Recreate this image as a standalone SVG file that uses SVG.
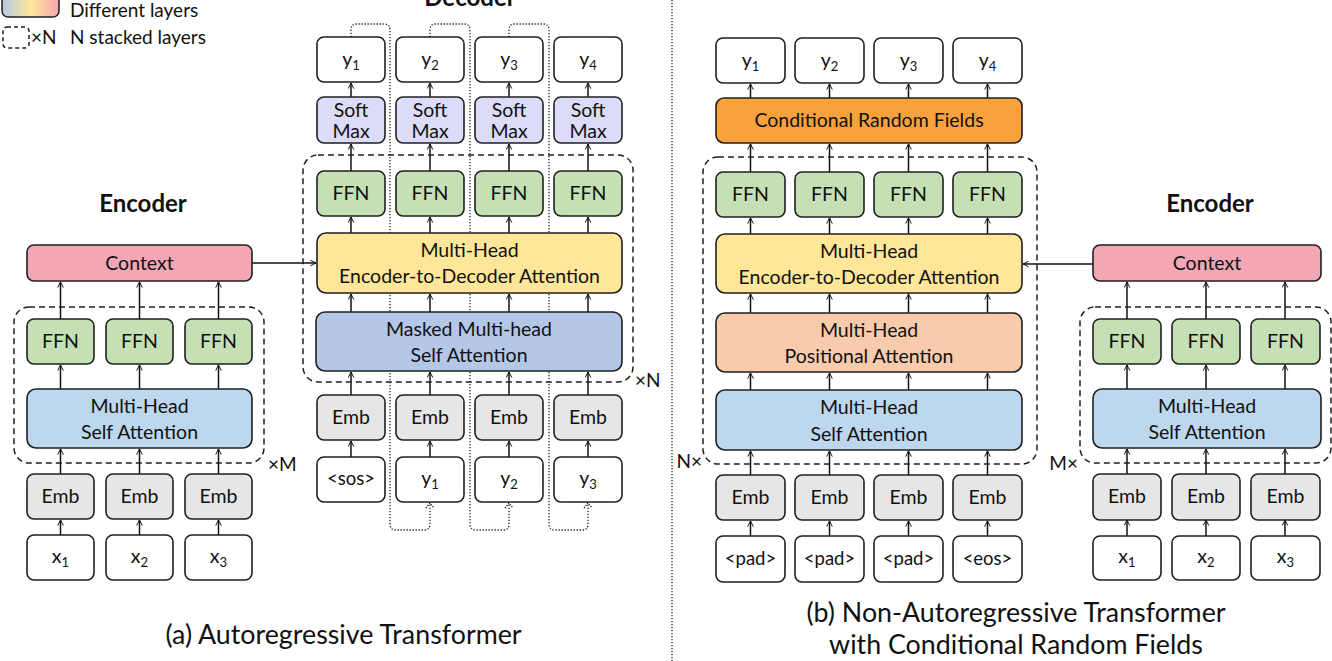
<svg xmlns="http://www.w3.org/2000/svg" width="1332" height="661" viewBox="0 0 1332 661">
<defs>
<linearGradient id="lg" x1="0" y1="0" x2="1" y2="0">
<stop offset="0" stop-color="#b4c7e7"/><stop offset="0.5" stop-color="#ffe699"/><stop offset="1" stop-color="#f4a6b5"/>
</linearGradient>
<marker id="ah" viewBox="0 0 10 10" refX="9" refY="5" markerWidth="7" markerHeight="7" orient="auto" markerUnits="userSpaceOnUse">
<path d="M1,1 L9,5 L1,9" fill="none" stroke="#111" stroke-width="1.4"/>
</marker>
</defs>
<style>
rect.b{stroke:#1f1f1f;stroke-width:1.6}
.w{fill:#ffffff}.pk{fill:#f4a6b5}.gr{fill:#c5e0b4}.lb{fill:#bdd7ee}.mb{fill:#b4c7e7}.ye{fill:#ffe699}.lv{fill:#dcdcf8}.gy{fill:#e7e6e6}.or{fill:#f9a23d}.pe{fill:#f8cbad}
rect.d{fill:none;stroke:#1f1f1f;stroke-width:1.5;stroke-dasharray:6 4}
text{font-family:Lato,"Liberation Sans",sans-serif;fill:#111;font-size:19.5px}
text.c{text-anchor:middle}
text.t{font-weight:bold;font-size:24px;text-anchor:middle}
text.cap{font-size:26.8px;text-anchor:middle}
text.m{font-size:19px}
text.in{font-size:18.5px}
.a{stroke:#111;stroke-width:1.5;fill:none;marker-end:url(#ah)}
.dot{stroke:#222;stroke-width:1.3;fill:none;stroke-dasharray:1.3 1.7}
tspan.s{font-size:13px}
</style>

<!-- legend -->
<g id="legend">
<rect x="2" y="-10" width="57" height="27" rx="6" fill="url(#lg)" stroke="#1f1f1f" stroke-width="1.5"/>
<text x="70" y="16.5" class="m">Different layers</text>
<rect x="3" y="27" width="26" height="21" rx="4" class="d" style="stroke-dasharray:4 3"/>
<text x="31" y="44" class="m">×N</text>
<text x="70" y="44" class="m">N stacked layers</text>
</g>

<!-- divider -->
<line x1="672" y1="0" x2="672" y2="661" class="dot"/>

<!-- titles & captions -->
<text x="143" y="212" class="t">Encoder</text>
<text x="470" y="6" class="t">Decoder</text>
<text x="1210" y="212" class="t">Encoder</text>
<text x="343.5" y="644" class="cap">(a) Autoregressive Transformer</text>
<text x="1016" y="622" class="cap">(b) Non-Autoregressive Transformer</text>
<text x="1016" y="654" class="cap">with Conditional Random Fields</text>

<!-- dotted feedback loops (behind boxes) -->
<g id="feedback">
<path class="dot" d="M351,37 V30 Q351,24 357,24 H384 Q390,24 390,30 V524 Q390,530 396,530 H424 Q430,530 430,524 V504"/>
<path class="dot" d="M430,37 V30 Q430,24 436,24 H464 Q470,24 470,30 V524 Q470,530 476,530 H503 Q509,530 509,524 V504"/>
<path class="dot" d="M509,37 V30 Q509,24 515,24 H543 Q549,24 549,30 V524 Q549,530 555,530 H582 Q588,530 588,524 V504"/>
<path d="M426,508 L430,503 L434,508" fill="none" stroke="#222" stroke-width="1.3" stroke-dasharray="1.3 1.3"/>
<path d="M505,508 L509,503 L513,508" fill="none" stroke="#222" stroke-width="1.3" stroke-dasharray="1.3 1.3"/>
<path d="M584,508 L588,503 L592,508" fill="none" stroke="#222" stroke-width="1.3" stroke-dasharray="1.3 1.3"/>
</g>

<!-- connectors -->
<g id="connectors">
<!-- left encoder -->
<path class="a" d="M60.5,535 V520"/><path class="a" d="M139.5,535 V520"/><path class="a" d="M218.5,535 V520"/>
<path class="a" d="M60.5,474 V449"/><path class="a" d="M139.5,474 V449"/><path class="a" d="M218.5,474 V449"/>
<path class="a" d="M60.5,389 V365"/><path class="a" d="M139.5,389 V365"/><path class="a" d="M218.5,389 V365"/>
<path class="a" d="M60.5,319 V282"/><path class="a" d="M139.5,319 V282"/><path class="a" d="M218.5,319 V282"/>
<path class="a" d="M252,263 H316"/>
<!-- left decoder -->
<path class="a" d="M351,457 V441"/><path class="a" d="M430,457 V441"/><path class="a" d="M509,457 V441"/><path class="a" d="M588,457 V441"/>
<path class="a" d="M351,395 V372"/><path class="a" d="M430,395 V372"/><path class="a" d="M509,395 V372"/><path class="a" d="M588,395 V372"/>
<path class="a" d="M351,312 V294"/><path class="a" d="M430,312 V294"/><path class="a" d="M509,312 V294"/><path class="a" d="M588,312 V294"/>
<path class="a" d="M351,233 V217"/><path class="a" d="M430,233 V217"/><path class="a" d="M509,233 V217"/><path class="a" d="M588,233 V217"/>
<path class="a" d="M351,171 V144"/><path class="a" d="M430,171 V144"/><path class="a" d="M509,171 V144"/><path class="a" d="M588,171 V144"/>
<path class="a" d="M351,97 V83"/><path class="a" d="M430,97 V83"/><path class="a" d="M509,97 V83"/><path class="a" d="M588,97 V83"/>
<!-- right decoder -->
<path class="a" d="M750.5,536 V521"/><path class="a" d="M829.5,536 V521"/><path class="a" d="M908.5,536 V521"/><path class="a" d="M987.5,536 V521"/>
<path class="a" d="M750.5,475 V451"/><path class="a" d="M829.5,475 V451"/><path class="a" d="M908.5,475 V451"/><path class="a" d="M987.5,475 V451"/>
<path class="a" d="M750.5,390 V373"/><path class="a" d="M829.5,390 V373"/><path class="a" d="M908.5,390 V373"/><path class="a" d="M987.5,390 V373"/>
<path class="a" d="M750.5,313 V294"/><path class="a" d="M829.5,313 V294"/><path class="a" d="M908.5,313 V294"/><path class="a" d="M987.5,313 V294"/>
<path class="a" d="M750.5,234 V218"/><path class="a" d="M829.5,234 V218"/><path class="a" d="M908.5,234 V218"/><path class="a" d="M987.5,234 V218"/>
<path class="a" d="M750.5,172 V144"/><path class="a" d="M829.5,172 V144"/><path class="a" d="M908.5,172 V144"/><path class="a" d="M987.5,172 V144"/>
<path class="a" d="M750.5,98 V84"/><path class="a" d="M829.5,98 V84"/><path class="a" d="M908.5,98 V84"/><path class="a" d="M987.5,98 V84"/>
<!-- right encoder -->
<path class="a" d="M1127,536 V520"/><path class="a" d="M1206,536 V520"/><path class="a" d="M1285,536 V520"/>
<path class="a" d="M1127,474 V449"/><path class="a" d="M1206,474 V449"/><path class="a" d="M1285,474 V449"/>
<path class="a" d="M1127,389 V365"/><path class="a" d="M1206,389 V365"/><path class="a" d="M1285,389 V365"/>
<path class="a" d="M1127,319 V282"/><path class="a" d="M1206,319 V282"/><path class="a" d="M1285,319 V282"/>
<path class="a" d="M1093,264 H1023"/>
</g>

<!-- stacked-layer frames -->
<g id="frames">
<rect x="14" y="307" width="250" height="156" rx="15" class="d"/>
<text x="268" y="471" class="m">×M</text>
<rect x="303" y="155" width="330" height="227" rx="15" class="d"/>
<text x="635" y="387" class="m">×N</text>
<rect x="703" y="157" width="334" height="307" rx="15" class="d"/>
<text x="702" y="468" class="m" text-anchor="end">N×</text>
<rect x="1080" y="307" width="251" height="156" rx="15" class="d"/>
<text x="1078" y="470" class="m" text-anchor="end">M×</text>
</g>

<!-- ===== (a) encoder ===== -->
<g id="a-enc-context"><rect class="b pk" x="27" y="245" width="225" height="36" rx="7"/><text class="c" x="139.5" y="270">Context</text></g>
<g id="a-enc-ffn1"><rect class="b gr" x="27" y="319" width="67" height="45" rx="7"/><text class="c" x="60.5" y="348">FFN</text></g>
<g id="a-enc-ffn2"><rect class="b gr" x="106" y="319" width="67" height="45" rx="7"/><text class="c" x="139.5" y="348">FFN</text></g>
<g id="a-enc-ffn3"><rect class="b gr" x="185" y="319" width="67" height="45" rx="7"/><text class="c" x="218.5" y="348">FFN</text></g>
<g id="a-enc-sa"><rect class="b lb" x="27" y="389" width="225" height="59" rx="9"/><text class="c" x="139.5" y="413">Multi-Head</text><text class="c" x="139.5" y="439">Self Attention</text></g>
<g id="a-enc-emb1"><rect class="b gy" x="27" y="474" width="67" height="45" rx="7"/><text class="c" x="60.5" y="503">Emb</text></g>
<g id="a-enc-emb2"><rect class="b gy" x="106" y="474" width="67" height="45" rx="7"/><text class="c" x="139.5" y="503">Emb</text></g>
<g id="a-enc-emb3"><rect class="b gy" x="185" y="474" width="67" height="45" rx="7"/><text class="c" x="218.5" y="503">Emb</text></g>
<g id="a-enc-x1"><rect class="b w" x="27" y="535" width="67" height="45" rx="7"/><text class="c" x="60.5" y="563">x<tspan class="s" dy="4">1</tspan></text></g>
<g id="a-enc-x2"><rect class="b w" x="106" y="535" width="67" height="45" rx="7"/><text class="c" x="139.5" y="563">x<tspan class="s" dy="4">2</tspan></text></g>
<g id="a-enc-x3"><rect class="b w" x="185" y="535" width="67" height="45" rx="7"/><text class="c" x="218.5" y="563">x<tspan class="s" dy="4">3</tspan></text></g>

<!-- ===== (a) decoder ===== -->
<g id="a-dec-y1"><rect class="b w" x="317" y="37" width="68" height="45" rx="7"/><text class="c" x="351" y="66">y<tspan class="s" dy="4">1</tspan></text></g>
<g id="a-dec-y2"><rect class="b w" x="396" y="37" width="68" height="45" rx="7"/><text class="c" x="430" y="66">y<tspan class="s" dy="4">2</tspan></text></g>
<g id="a-dec-y3"><rect class="b w" x="475" y="37" width="68" height="45" rx="7"/><text class="c" x="509" y="66">y<tspan class="s" dy="4">3</tspan></text></g>
<g id="a-dec-y4"><rect class="b w" x="554" y="37" width="68" height="45" rx="7"/><text class="c" x="588" y="66">y<tspan class="s" dy="4">4</tspan></text></g>
<g id="a-dec-sm1"><rect class="b lv" x="317" y="97" width="68" height="46" rx="7"/><text class="c" x="351" y="117">Soft</text><text class="c" x="351" y="138">Max</text></g>
<g id="a-dec-sm2"><rect class="b lv" x="396" y="97" width="68" height="46" rx="7"/><text class="c" x="430" y="117">Soft</text><text class="c" x="430" y="138">Max</text></g>
<g id="a-dec-sm3"><rect class="b lv" x="475" y="97" width="68" height="46" rx="7"/><text class="c" x="509" y="117">Soft</text><text class="c" x="509" y="138">Max</text></g>
<g id="a-dec-sm4"><rect class="b lv" x="554" y="97" width="68" height="46" rx="7"/><text class="c" x="588" y="117">Soft</text><text class="c" x="588" y="138">Max</text></g>
<g id="a-dec-ffn1"><rect class="b gr" x="317" y="171" width="68" height="45" rx="7"/><text class="c" x="351" y="200">FFN</text></g>
<g id="a-dec-ffn2"><rect class="b gr" x="396" y="171" width="68" height="45" rx="7"/><text class="c" x="430" y="200">FFN</text></g>
<g id="a-dec-ffn3"><rect class="b gr" x="475" y="171" width="68" height="45" rx="7"/><text class="c" x="509" y="200">FFN</text></g>
<g id="a-dec-ffn4"><rect class="b gr" x="554" y="171" width="68" height="45" rx="7"/><text class="c" x="588" y="200">FFN</text></g>
<g id="a-dec-encdec"><rect class="b ye" x="317" y="233" width="305" height="60" rx="9"/><text class="c" x="469.5" y="257">Multi-Head</text><text class="c" x="469.5" y="283">Encoder-to-Decoder Attention</text></g>
<g id="a-dec-masked"><rect class="b mb" x="316" y="312" width="306" height="59" rx="9"/><text class="c" x="469" y="336">Masked Multi-head</text><text class="c" x="469" y="362">Self Attention</text></g>
<g id="a-dec-emb1"><rect class="b gy" x="317" y="395" width="68" height="45" rx="7"/><text class="c" x="351" y="424">Emb</text></g>
<g id="a-dec-emb2"><rect class="b gy" x="396" y="395" width="68" height="45" rx="7"/><text class="c" x="430" y="424">Emb</text></g>
<g id="a-dec-emb3"><rect class="b gy" x="475" y="395" width="68" height="45" rx="7"/><text class="c" x="509" y="424">Emb</text></g>
<g id="a-dec-emb4"><rect class="b gy" x="554" y="395" width="68" height="45" rx="7"/><text class="c" x="588" y="424">Emb</text></g>
<g id="a-dec-in1"><rect class="b w" x="317" y="457" width="68" height="45" rx="7"/><text class="c in" x="351" y="485">&lt;sos&gt;</text></g>
<g id="a-dec-in2"><rect class="b w" x="396" y="457" width="68" height="45" rx="7"/><text class="c" x="430" y="485">y<tspan class="s" dy="4">1</tspan></text></g>
<g id="a-dec-in3"><rect class="b w" x="475" y="457" width="68" height="45" rx="7"/><text class="c" x="509" y="485">y<tspan class="s" dy="4">2</tspan></text></g>
<g id="a-dec-in4"><rect class="b w" x="554" y="457" width="68" height="45" rx="7"/><text class="c" x="588" y="485">y<tspan class="s" dy="4">3</tspan></text></g>

<!-- ===== (b) decoder ===== -->
<g id="b-dec-y1"><rect class="b w" x="716" y="38" width="69" height="45" rx="7"/><text class="c" x="750.5" y="67">y<tspan class="s" dy="4">1</tspan></text></g>
<g id="b-dec-y2"><rect class="b w" x="795" y="38" width="69" height="45" rx="7"/><text class="c" x="829.5" y="67">y<tspan class="s" dy="4">2</tspan></text></g>
<g id="b-dec-y3"><rect class="b w" x="874" y="38" width="69" height="45" rx="7"/><text class="c" x="908.5" y="67">y<tspan class="s" dy="4">3</tspan></text></g>
<g id="b-dec-y4"><rect class="b w" x="953" y="38" width="69" height="45" rx="7"/><text class="c" x="987.5" y="67">y<tspan class="s" dy="4">4</tspan></text></g>
<g id="b-dec-crf"><rect class="b or" x="716" y="98" width="306" height="45" rx="8"/><text class="c" x="869" y="127">Conditional Random Fields</text></g>
<g id="b-dec-ffn1"><rect class="b gr" x="716" y="172" width="69" height="45" rx="7"/><text class="c" x="750.5" y="201">FFN</text></g>
<g id="b-dec-ffn2"><rect class="b gr" x="795" y="172" width="69" height="45" rx="7"/><text class="c" x="829.5" y="201">FFN</text></g>
<g id="b-dec-ffn3"><rect class="b gr" x="874" y="172" width="69" height="45" rx="7"/><text class="c" x="908.5" y="201">FFN</text></g>
<g id="b-dec-ffn4"><rect class="b gr" x="953" y="172" width="69" height="45" rx="7"/><text class="c" x="987.5" y="201">FFN</text></g>
<g id="b-dec-encdec"><rect class="b ye" x="716" y="234" width="306" height="59" rx="9"/><text class="c" x="869" y="258">Multi-Head</text><text class="c" x="869" y="284">Encoder-to-Decoder Attention</text></g>
<g id="b-dec-pos"><rect class="b pe" x="716" y="313" width="306" height="59" rx="9"/><text class="c" x="869" y="337">Multi-Head</text><text class="c" x="869" y="363">Positional Attention</text></g>
<g id="b-dec-sa"><rect class="b lb" x="716" y="390" width="306" height="60" rx="9"/><text class="c" x="869" y="414">Multi-Head</text><text class="c" x="869" y="441">Self Attention</text></g>
<g id="b-dec-emb1"><rect class="b gy" x="716" y="475" width="69" height="45" rx="7"/><text class="c" x="750.5" y="504">Emb</text></g>
<g id="b-dec-emb2"><rect class="b gy" x="795" y="475" width="69" height="45" rx="7"/><text class="c" x="829.5" y="504">Emb</text></g>
<g id="b-dec-emb3"><rect class="b gy" x="874" y="475" width="69" height="45" rx="7"/><text class="c" x="908.5" y="504">Emb</text></g>
<g id="b-dec-emb4"><rect class="b gy" x="953" y="475" width="69" height="45" rx="7"/><text class="c" x="987.5" y="504">Emb</text></g>
<g id="b-dec-in1"><rect class="b w" x="716" y="536" width="69" height="46" rx="7"/><text class="c in" x="750.5" y="565">&lt;pad&gt;</text></g>
<g id="b-dec-in2"><rect class="b w" x="795" y="536" width="69" height="46" rx="7"/><text class="c in" x="829.5" y="565">&lt;pad&gt;</text></g>
<g id="b-dec-in3"><rect class="b w" x="874" y="536" width="69" height="46" rx="7"/><text class="c in" x="908.5" y="565">&lt;pad&gt;</text></g>
<g id="b-dec-in4"><rect class="b w" x="953" y="536" width="69" height="46" rx="7"/><text class="c in" x="987.5" y="565">&lt;eos&gt;</text></g>

<!-- ===== (b) encoder ===== -->
<g id="b-enc-context"><rect class="b pk" x="1093" y="245" width="228" height="36" rx="7"/><text class="c" x="1207" y="270">Context</text></g>
<g id="b-enc-ffn1"><rect class="b gr" x="1093" y="319" width="68" height="45" rx="7"/><text class="c" x="1127" y="348">FFN</text></g>
<g id="b-enc-ffn2"><rect class="b gr" x="1172" y="319" width="68" height="45" rx="7"/><text class="c" x="1206" y="348">FFN</text></g>
<g id="b-enc-ffn3"><rect class="b gr" x="1251" y="319" width="69" height="45" rx="7"/><text class="c" x="1285.5" y="348">FFN</text></g>
<g id="b-enc-sa"><rect class="b lb" x="1093" y="389" width="228" height="59" rx="9"/><text class="c" x="1207" y="413">Multi-Head</text><text class="c" x="1207" y="439">Self Attention</text></g>
<g id="b-enc-emb1"><rect class="b gy" x="1093" y="474" width="68" height="46" rx="7"/><text class="c" x="1127" y="503">Emb</text></g>
<g id="b-enc-emb2"><rect class="b gy" x="1172" y="474" width="68" height="46" rx="7"/><text class="c" x="1206" y="503">Emb</text></g>
<g id="b-enc-emb3"><rect class="b gy" x="1251" y="474" width="69" height="46" rx="7"/><text class="c" x="1285.5" y="503">Emb</text></g>
<g id="b-enc-x1"><rect class="b w" x="1093" y="536" width="68" height="44" rx="7"/><text class="c" x="1127" y="563">x<tspan class="s" dy="4">1</tspan></text></g>
<g id="b-enc-x2"><rect class="b w" x="1172" y="536" width="68" height="44" rx="7"/><text class="c" x="1206" y="563">x<tspan class="s" dy="4">2</tspan></text></g>
<g id="b-enc-x3"><rect class="b w" x="1251" y="536" width="69" height="44" rx="7"/><text class="c" x="1285.5" y="563">x<tspan class="s" dy="4">3</tspan></text></g>
</svg>
